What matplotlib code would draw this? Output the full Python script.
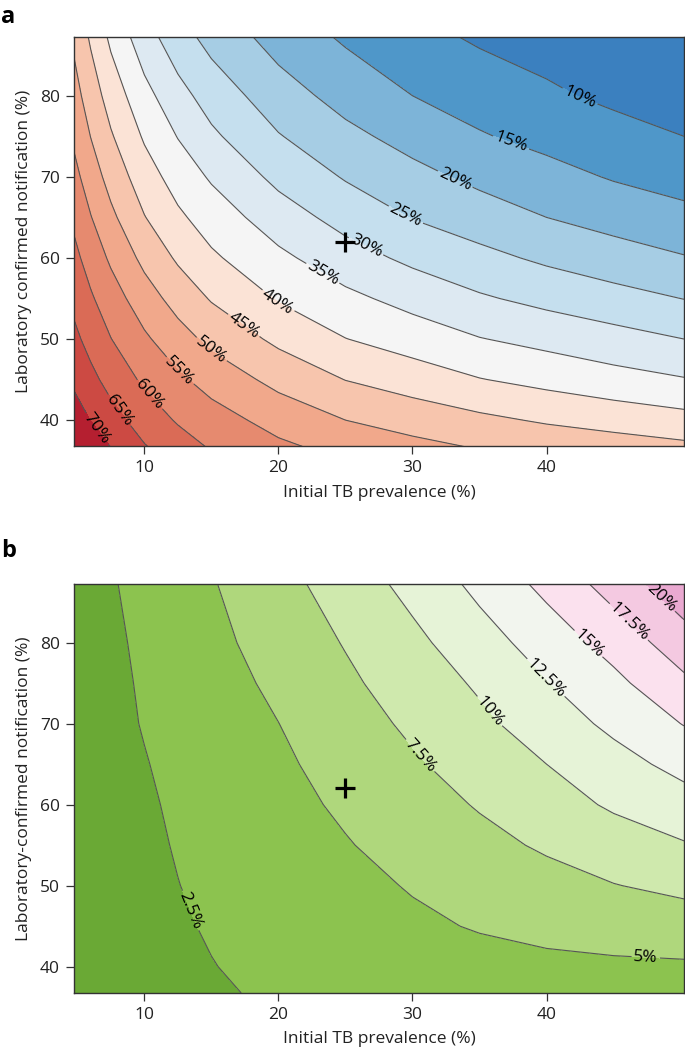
import numpy as np
import matplotlib
matplotlib.use("Agg")
import matplotlib.pyplot as plt

plt.rcParams['font.family'] = ['Open Sans', 'DejaVu Sans']

# grid (prevalence %, notification %)
prevalence = [4.75, 6, 7.5, 10, 12.5, 15, 20, 25, 30, 35, 40, 45, 50.25]
notification = [36.75, 40, 45, 50, 55, 60, 65, 70, 75, 80, 87.25]

# panel a values, one row per notification level (bottom to top)
panel_a = [
    [74.5, 72.7, 69.9, 65.3, 62.2, 59.5, 55.9, 53.4, 51.3, 49.6, 48.4, 47.2, 46.0],
    [72.4, 69.9, 66.9, 62.8, 59.5, 57.1, 53.2, 50.0, 48.0, 46.1, 44.4, 43.1, 41.7],
    [69.1, 66.3, 63.3, 59.1, 55.9, 53.1, 48.5, 44.9, 42.6, 40.2, 38.5, 36.8, 35.3],
    [66.2, 63.3, 60.1, 55.8, 52.0, 48.7, 43.9, 40.1, 37.7, 35.2, 33.5, 31.8, 30.0],
    [63.7, 60.6, 57.3, 52.3, 48.1, 44.6, 39.6, 36.2, 33.3, 30.6, 28.6, 26.8, 24.9],
    [61.3, 58.0, 54.2, 48.7, 44.3, 40.8, 36.1, 32.1, 28.9, 26.4, 24.1, 22.1, 20.3],
    [59.0, 55.2, 51.1, 45.2, 40.9, 37.7, 32.4, 28.2, 24.8, 22.4, 20.0, 18.2, 16.4],
    [56.5, 52.5, 48.2, 42.3, 37.9, 34.4, 28.7, 24.6, 21.5, 18.8, 16.7, 14.6, 13.0],
    [54.1, 49.9, 45.5, 39.4, 34.8, 30.9, 25.3, 21.3, 18.2, 15.4, 13.5, 11.8, 10.0],
    [51.9, 47.6, 42.9, 36.6, 31.7, 27.9, 22.2, 18.2, 15.0, 12.9, 10.8, 9.0, 7.2],
    [49.0, 44.3, 39.0, 32.1, 27.1, 23.3, 18.0, 14.3, 11.6, 9.3, 8.0, 7.3, 6.5],
]

# panel b values, same grid
panel_b = [
    [1.35, 1.45, 1.6, 1.9, 2.1, 2.3, 2.75, 3.2, 3.6, 3.95, 4.2, 4.35, 4.45],
    [1.35, 1.5, 1.65, 1.95, 2.2, 2.45, 2.95, 3.45, 3.9, 4.25, 4.55, 4.65, 4.7],
    [1.3, 1.5, 1.66, 1.99, 2.32, 2.64, 3.3, 3.95, 4.61, 5.16, 5.55, 5.94, 6.35],
    [1.28, 1.5, 1.7, 2.09, 2.47, 2.85, 3.62, 4.39, 5.15, 5.91, 6.67, 7.42, 8.06],
    [1.21, 1.45, 1.71, 2.16, 2.61, 3.06, 3.96, 4.86, 5.83, 6.83, 7.81, 8.8, 9.82],
    [1.19, 1.45, 1.75, 2.26, 2.76, 3.27, 4.29, 5.35, 6.5, 7.68, 8.94, 10.33, 11.52],
    [1.26, 1.55, 1.86, 2.41, 2.96, 3.51, 4.61, 5.86, 7.2, 8.6, 10.0, 11.6, 13.27],
    [1.35, 1.65, 2.0, 2.6, 3.19, 3.79, 4.98, 6.44, 7.93, 9.48, 11.2, 13.05, 15.1],
    [1.3, 1.65, 2.04, 2.72, 3.39, 4.06, 5.47, 7.06, 8.65, 10.33, 12.38, 14.37, 17.0],
    [1.28, 1.7, 2.12, 2.88, 3.63, 4.39, 5.99, 7.64, 9.4, 11.47, 13.6, 15.93, 18.9],
    [1.4, 1.85, 2.32, 3.15, 4.0, 4.83, 6.68, 8.63, 10.75, 13.14, 15.67, 18.54, 21.7],
]

levels_a = [10, 15, 20, 25, 30, 35, 40, 45, 50, 55, 60, 65, 70]
levels_b = [2.5, 5, 7.5, 10, 12.5, 15, 17.5, 20]

# label anchor points (prevalence, notification)
labels_a = [(42.5, 80), (37.3, 74), (33.1, 69.4), (29.5, 65.3), (26.4, 61.0), (23.2, 57.8),
            (19.9, 54.5), (17.3, 51.4), (14.9, 48.5), (12.6, 46.0), (10.3, 43.0), (8.2, 41.3),
            (6.6, 39.1)]
labels_b = [(13.7, 47.1), (47.4, 41.2), (30.6, 66.1), (35.8, 71.6), (39.9, 75.6),
            (43.3, 80.2), (46.1, 82.5), (48.6, 85.6)]

base_case = (25, 62)

colors_a = ['#3b80bf', '#4f97c9', '#7db4d8', '#a6cde4', '#c5dfee', '#dde9f2', '#f5f5f5',
            '#fbe3d6', '#f7c5ad', '#f1a88b', '#e68a6f', '#da6b56', '#cc4a43', '#b51f30']
colors_b = ['#6aa935', '#8cc34f', '#afd77c', '#cfe9ad', '#e6f3d7', '#f2f5ee', '#fbe1ee',
            '#f4c9e1', '#eaa9d1']


def fmt_pct(v):
    s = ('%.1f' % v).rstrip('0').rstrip('.')
    return s + '%'


def draw_panel(ax, values, levels, colors, label_pos, ylabel):
    X, Y = np.meshgrid(prevalence, notification)
    Z = np.array(values)
    fill_levels = [-100] + levels + [200]
    ax.contourf(X, Y, Z, levels=fill_levels, colors=colors)
    cs = ax.contour(X, Y, Z, levels=levels, colors='#555555', linewidths=0.8)
    ax.clabel(cs, manual=label_pos, fmt=fmt_pct, inline=True, fontsize=12.5,
              colors='black', inline_spacing=2)
    ax.plot(*base_case, marker='+', color='black', markersize=15, mew=2.3)

    ax.set_xlim(prevalence[0], prevalence[-1])
    ax.set_ylim(notification[0], notification[-1])
    ax.set_xticks([10, 20, 30, 40])
    ax.set_yticks([40, 50, 60, 70, 80])
    ax.tick_params(direction='out', length=6, width=0.9, color='#333333',
                   labelsize=12.5, labelcolor='#222222', pad=4)
    for sp in ax.spines.values():
        sp.set_color('#333333')
        sp.set_linewidth(1.0)
    ax.set_xlabel('Initial TB prevalence (%)', fontsize=12.5, color='#222222', labelpad=6)
    ax.set_ylabel(ylabel, fontsize=12.5, color='#222222', labelpad=6)


fig = plt.figure(figsize=(6.85, 10.56), dpi=100)
ax_a = fig.add_axes([0.108, 0.5772, 0.8905, 0.3878])
ax_b = fig.add_axes([0.108, 0.0597, 0.8905, 0.3873])

draw_panel(ax_a, panel_a, levels_a, colors_a, labels_a, 'Laboratory confirmed notification (%)')
draw_panel(ax_b, panel_b, levels_b, colors_b, labels_b, 'Laboratory-confirmed notification (%)')

fig.text(0.002, 0.995, 'a', fontsize=17, fontweight='bold', va='top', ha='left')
fig.text(0.002, 0.4895, 'b', fontsize=17, fontweight='bold', va='top', ha='left')

fig.savefig('out.png', dpi=100)
